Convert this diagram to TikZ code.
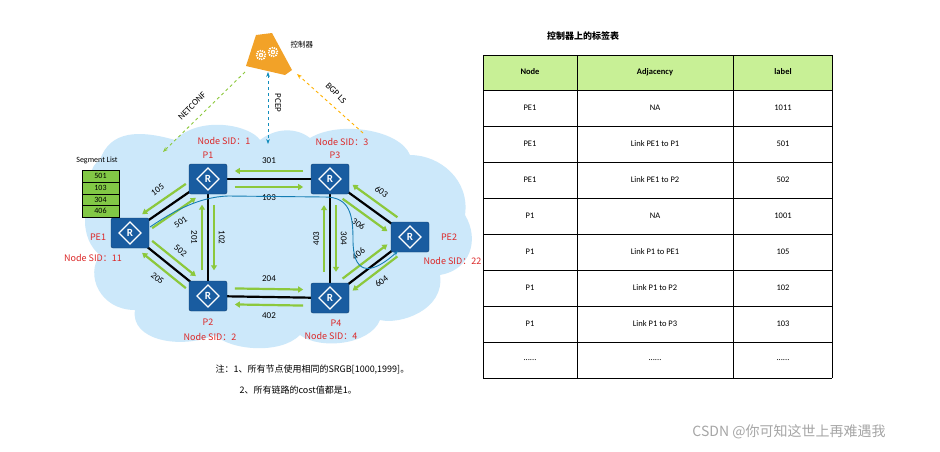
\documentclass[tikz,border=0pt]{standalone}
\usepackage{fontspec}
\setmainfont{Carlito}
\newfontfamily\cjk{Noto Sans CJK SC}
\usetikzlibrary{calc,arrows.meta,shapes.geometric}
\definecolor{rblue}{RGB}{25,92,160}
\definecolor{gar}{RGB}{140,200,60}
\definecolor{cloudc}{RGB}{204,232,250}
\definecolor{sidred}{RGB}{220,40,40}
\definecolor{hdr}{RGB}{200,240,150}
\definecolor{segg}{RGB}{130,200,70}
\definecolor{ctlor}{RGB}{242,162,40}
\tikzset{
 router/.style={draw=rblue!70!black,fill=rblue,rounded corners=2pt,minimum width=38pt,minimum height=30pt,inner sep=0pt},
 link/.style={line width=2.2pt,black},
 garrow/.style={gar,line width=2.2pt,-{Triangle[length=5pt,width=6pt]}},
 lab/.style={font=\fontsize{9}{9}\selectfont,inner sep=1pt},
 sid/.style={text=sidred,font=\cjk\fontsize{9}{10}\selectfont},
 cell/.style={font=\fontsize{8.5}{9}\selectfont},
}
\newcommand\routerR[2]{%
 \node[router] (#1) at (#2) {};
 \draw[white,line width=1.2pt] ($(#1)+(0,-11)$)--($(#1)+(11,0)$)--($(#1)+(0,11)$)--($(#1)+(-11,0)$)--cycle;
 \node[white,font=\bfseries\fontsize{11}{11}\selectfont] at (#1) {R};}
% \gar{from}{to}{dx}{dy}{label}{angle}
\newcommand\gar[6]{%
 \draw[garrow] ([shift={(#3,#4)}]$(#1)!0.22!(#2)$) -- ([shift={(#3,#4)}]$(#1)!0.78!(#2)$);
 \node[lab,rotate=#6] at ([shift={(2.3*#3,2.3*#4)}]$(#1)!0.5!(#2)$) {#5};}
\newcommand\dotsix{......}
\begin{document}
\begin{tikzpicture}[x=1pt,y=-1pt]
\useasboundingbox (0,0) rectangle (940,451);
\fill[white] (0,0) rectangle (940,451);
\fill[cloudc] (100,160) .. controls (110,130) and (140,130) .. (175,140)
 .. controls (200,115) and (250,125) .. (260,140)
 .. controls (280,125) and (300,130) .. (310,138)
 .. controls (340,120) and (400,130) .. (410,155)
 .. controls (440,155) and (470,180) .. (465,215)
 .. controls (480,240) and (470,270) .. (440,275)
 .. controls (445,310) and (400,325) .. (380,320)
 .. controls (370,345) and (320,350) .. (300,335)
 .. controls (280,355) and (230,350) .. (215,335)
 .. controls (180,350) and (130,340) .. (135,310)
 .. controls (100,310) and (85,275) .. (100,255)
 .. controls (80,240) and (80,200) .. (100,195)
 .. controls (85,185) and (90,165) .. (100,160) -- cycle;
\coordinate (cP1) at (208,179);
\coordinate (cP3) at (330,179);
\coordinate (cPE1) at (130,233);
\coordinate (cPE2) at (410,237);
\coordinate (cP2) at (208,296);
\coordinate (cP4) at (330,298);
\draw[link] (cPE1)--(cP1);
\draw[link] (cP1)--(cP3);
\draw[link] (cP3)--(cPE2);
\draw[link] (cP1)--(cP2);
\draw[link] (cP3)--(cP4);
\draw[link] (cPE1)--(cP2);
\draw[link] (cP2)--(cP4);
\draw[link] (cP4)--(cPE2);
\gar{cP1}{cPE1}{-5}{-7}{105}{35}
\gar{cPE1}{cP1}{5}{7}{501}{35}
\gar{cP3}{cP1}{0}{-8}{301}{0}
\gar{cP1}{cP3}{0}{8}{103}{0}
\gar{cPE2}{cP3}{5}{-7}{603}{-36}
\gar{cP3}{cPE2}{-5}{7}{306}{-36}
\gar{cP2}{cP1}{-6}{0}{201}{-90}
\gar{cP1}{cP2}{6}{0}{102}{-90}
\gar{cP4}{cP3}{-6}{0}{403}{90}
\gar{cP3}{cP4}{6}{0}{304}{-90}
\gar{cPE1}{cP2}{5}{-6}{502}{-39}
\gar{cP2}{cPE1}{-5}{6}{205}{-39}
\gar{cP2}{cP4}{0}{-8}{204}{0}
\gar{cP4}{cP2}{0}{8}{402}{0}
\gar{cP4}{cPE2}{-5}{-6}{406}{37}
\gar{cPE2}{cP4}{5}{6}{604}{37}
\routerR{P1}{cP1}
\routerR{P3}{cP3}
\routerR{PE1}{cPE1}
\routerR{PE2}{cPE2}
\routerR{P2}{cP2}
\routerR{P4}{cP4}
\draw[rblue!80!cyan,line width=0.9pt,-{Stealth[length=5pt]}] (150,227) .. controls (175,210) and (200,197) .. (228,196)
 -- (325,197) .. controls (350,197) and (353,215) .. (353,240)
 .. controls (353,272) and (368,278) .. (398,251);
\node[sid] at (224,141) {Node SID：1};
\node[sid] at (208,155) {P1};
\node[sid] at (342,142) {Node SID：3};
\node[sid] at (335,155) {P3};
\node[sid] at (98,237) {PE1};
\node[sid] at (93,258) {Node SID：11};
\node[sid] at (449,237) {PE2};
\node[sid,anchor=west] at (420,261) {Node SID：22};
\node[sid] at (208,322) {P2};
\node[sid] at (210,337) {Node SID：2};
\node[sid] at (336,323) {P4};
\node[sid] at (331,336) {Node SID：4};
% controller
\fill[ctlor] (246,66) -- (256,35) -- (272,33) -- (292,70) -- (285,75) -- cycle;
\foreach \p in {(261,55),(273,52)} \draw[white,line width=1.6pt,dash pattern=on 1.3pt off 1pt] \p circle (4.5pt);
\foreach \p in {(261,55),(273,52)} \fill[white] \p circle (2.3pt);
\foreach \p in {(261,55),(273,52)} \fill[ctlor] \p circle (1pt);
\node[font=\cjk\fontsize{7.5}{7.5}\selectfont,anchor=west] at (287,45) {控制器};
\coordinate (nc1) at (245,72); \coordinate (nc2) at (163,152);
\draw[gar,dashed,line width=0.9pt,-{Stealth[length=5pt]}] (nc1) -- (nc2);
\node[lab,rotate=45] at (192,106) {NETCONF};
\coordinate (pc1) at (268,72); \coordinate (pc2) at (268,144);
\draw[rblue!70!cyan,dashed,line width=0.9pt,{Stealth[length=5pt]}-{Stealth[length=5pt]}] (pc1) -- (pc2);
\node[lab,rotate=-90] at (278,103) {PCEP};
\coordinate (bg1) at (363,133); \coordinate (bg2) at (297,74);
\draw[orange!60!yellow,dashed,line width=0.9pt,-{Stealth[length=5pt]}] (bg1) -- (bg2);
\node[lab,rotate=-45] at (336,93) {BGP LS};
\node[font=\fontsize{8}{8}\selectfont] at (97,160) {Segment List};
\foreach \t [count=\i] in {501,103,304,406}
 \node[draw,fill=segg,minimum width=37pt,minimum height=11.7pt,inner sep=0pt,font=\fontsize{8}{8}\selectfont] at (100.5,164.5+11.7*\i) {\t};
\node[font=\cjk\fontsize{9}{10}\selectfont,anchor=west] at (212,370) {注：1、所有节点使用相同的SRGB[1000,1999]。};
\node[font=\cjk\fontsize{9}{10}\selectfont,anchor=west] at (236,390) {2、所有链路的cost值都是1。};
\node[font=\cjk\bfseries\fontsize{9}{10}\selectfont] at (583,36) {控制器上的标签表};
\fill[hdr] (483,55) rectangle (832,90);
\foreach \y in {55,90,126,162,198,234,270,306,342,378} \draw[line width=0.8pt] (483,\y)--(832,\y);
\foreach \x in {483,577,733,832} \draw[line width=0.8pt] (\x,55)--(\x,378);
\node[cell,font=\bfseries\fontsize{8.5}{9}\selectfont] at (530,72) {Node};
\node[cell,font=\bfseries\fontsize{8.5}{9}\selectfont] at (655,72) {Adjacency};
\node[cell,font=\bfseries\fontsize{8.5}{9}\selectfont] at (783,72) {label};
\foreach \a/\b/\c [count=\i] in {PE1/NA/1011,PE1/Link PE1 to P1/501,PE1/Link PE1 to P2/502,P1/NA/1001,P1/Link P1 to PE1/105,P1/Link P1 to P2/102,P1/Link P1 to P3/103}{
 \node[cell] at (530,72+36*\i) {\a};
 \node[cell] at (655,72+36*\i) {\b};
 \node[cell] at (783,72+36*\i) {\c};}
\node[cell] at (530,360) {\dotsix};
\node[cell] at (655,360) {\dotsix};
\node[cell] at (783,360) {\dotsix};
\node[text=gray!70,font=\cjk\fontsize{14}{14}\selectfont] at (789,432) {CSDN @你可知这世上再难遇我};
\end{tikzpicture}
\end{document}
